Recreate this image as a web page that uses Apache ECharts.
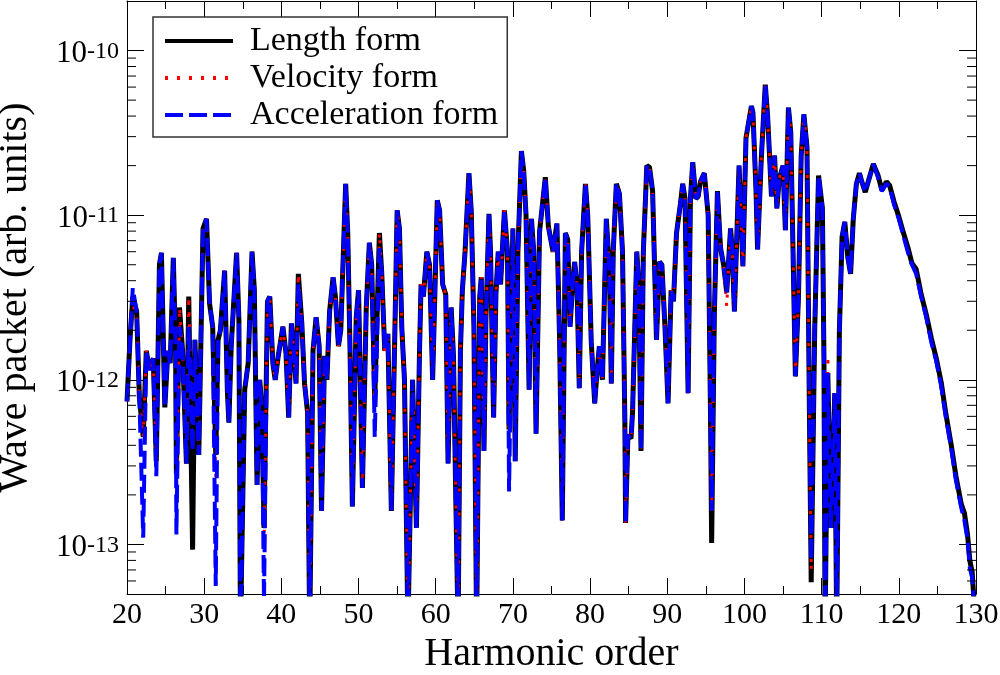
<!DOCTYPE html>
<html>
<head>
<meta charset="utf-8">
<title>Wave packet spectrum</title>
<script src="https://cdn.jsdelivr.net/npm/echarts@6.0.0/dist/echarts.min.js"></script>
<style>
  html, body { margin: 0; padding: 0; background: #fff; }
  #chart { width: 1000px; height: 675px; }
</style>
</head>
<body>
<div id="chart"></div>
<script>
// harmonic order (x) - knots
const harmonic = [
  20.0, 20.4, 20.75, 21.25, 21.6, 22.1, 22.5, 22.9, 23.4, 23.8,
  24.2, 24.46, 24.9, 25.3, 25.6, 26.0, 26.3, 26.4, 26.8, 27.2,
  27.7, 28.0, 28.5, 28.8, 29.3, 29.85, 30.3, 30.7, 31.1, 31.5,
  31.8, 32.1, 32.65, 33.0, 33.2, 33.5, 34.2, 34.5, 34.7, 35.25,
  35.7, 36.2, 36.5, 36.85, 37.2, 37.5, 37.75, 38.2, 38.5, 38.9,
  39.2, 39.6, 40.2, 40.6, 40.95, 41.3, 41.6, 41.9, 42.2, 42.65,
  43.0, 43.4, 43.67, 44.1, 44.5, 44.9, 45.2, 45.6, 45.9, 46.25,
  46.7, 47.0, 47.4, 47.7, 48.33, 48.6, 48.9, 49.2, 49.7, 50.0,
  50.5, 51.0, 51.4, 51.7, 52.1, 52.7, 53.0, 53.4, 53.8, 54.25,
  54.7, 55.0, 55.3, 55.6, 55.95, 56.4, 57.0, 57.5, 57.9, 58.1,
  58.4, 58.85, 59.2, 59.6, 60.2, 60.5, 60.9, 61.3, 61.6, 62.0,
  62.3, 62.6, 62.9, 63.2, 63.45, 63.8, 64.3, 64.6, 64.95, 65.3,
  65.7, 65.9, 66.25, 66.5, 66.9, 67.1, 67.5, 67.8, 68.1, 68.4,
  68.9, 69.3, 69.5, 70.0, 70.3, 70.65, 71.1, 71.4, 71.7, 72.1,
  72.4, 72.7, 73.0, 73.45, 74.2, 74.6, 75.2, 75.7, 76.05, 76.4,
  76.8, 77.1, 77.4, 77.8, 78.0, 78.3, 78.6, 78.9, 79.4, 79.7,
  80.15, 80.6, 80.9, 81.2, 81.6, 82.1, 82.5, 82.75, 83.0, 83.4,
  83.8, 84.2, 84.5, 84.6, 84.9, 85.3, 85.5, 86.05, 86.3, 86.6,
  86.9, 87.35, 87.7, 88.1, 88.6, 89.0, 89.3, 89.7, 90.1, 90.5,
  90.8, 91.2, 91.7, 92.0, 92.3, 92.7, 93.0, 93.3, 93.7, 94.0,
  94.3, 94.8, 95.3, 95.6, 95.75, 96.1, 96.5, 96.9, 97.3, 97.7,
  98.2, 98.4, 98.7, 99.3, 99.8, 100.2, 100.9, 101.1, 101.5, 101.7,
  102.2, 102.7, 103.0, 103.25, 103.5, 103.9, 104.2, 104.5, 105.0, 105.3,
  105.7, 106.0, 106.6, 107.0, 107.35, 107.7, 108.1, 108.4, 108.65, 109.1,
  109.6, 110.1, 110.3, 110.45, 110.8, 111.2, 111.7, 111.95, 112.3, 112.65,
  113.0, 113.4, 113.75, 114.1, 114.5, 114.9, 115.2, 115.65, 116.2, 116.7,
  117.3, 117.8, 118.4, 118.8, 119.4, 120.0, 120.5, 121.2, 121.7, 122.25,
  122.9, 123.55, 124.2, 124.85, 125.5, 126.1, 126.8, 127.4, 128.1, 128.5,
  128.9, 129.2, 129.5, 130.0
];

// Length form (black solid)
const lengthForm = [
  7.4e-13, 1.8e-12, 3.2e-12, 2.6e-12, 7.9e-13, 4.5e-13, 1.5e-12, 1.15e-12, 1.35e-12, 3.2e-13,
  5.0e-12, 5.9e-12, 6.8e-13, 1.5e-12, 1.26e-12, 5.5e-12, 1.5e-12, 2.7e-13, 2.75e-12, 1.5e-12,
  3.1e-13, 3.2e-12, 9.3e-14, 1.75e-12, 3.5e-13, 8.3e-12, 9.5e-12, 2.9e-12, 2.1e-12, 3.5e-13,
  1.75e-12, 2.0e-12, 4.6e-12, 8.7e-13, 5.5e-13, 1.6e-12, 5.9e-12, 2.3e-12, 3e-14, 8.7e-13,
  1.26e-12, 6.0e-12, 3.5e-12, 2.3e-13, 1.0e-12, 6.3e-13, 1.26e-13, 3.0e-12, 3.2e-12, 1.26e-12,
  1.0e-12, 1.4e-12, 2.1e-12, 1.45e-12, 5.9e-13, 2.2e-12, 1.5e-12, 9.5e-13, 4.4e-12, 2.2e-12,
  9.5e-13, 6.3e-13, 3e-14, 1.5e-12, 2.4e-12, 1.6e-12, 1.6e-13, 1.4e-12, 1.0e-12, 2.6e-12,
  4.2e-12, 3.2e-12, 1.6e-12, 2.0e-12, 1.55e-11, 7.8e-12, 1.5e-12, 1.7e-13, 2.4e-12, 3.5e-12,
  2.2e-13, 2.75e-12, 6.8e-12, 5.0e-12, 7.6e-13, 7.8e-12, 4.5e-12, 1.5e-12, 1.9e-12, 1.6e-13,
  1.9e-12, 1.07e-11, 8.3e-12, 2.1e-12, 1.0e-12, 3e-14, 1.0e-12, 1.26e-13, 1.5e-12, 3.8e-12,
  3.2e-12, 6.0e-12, 5.0e-12, 1.0e-12, 1.23e-11, 1.07e-11, 3.8e-12, 3.3e-12, 3.1e-13, 2.75e-12,
  1.4e-12, 1.9e-13, 3e-14, 1.5e-12, 3.5e-12, 6.0e-12, 1.8e-11, 1.07e-11, 2.1e-12, 3e-14,
  3.2e-12, 4.2e-12, 3.7e-13, 2.3e-12, 1.02e-11, 6.0e-12, 5.9e-13, 3.3e-12, 6.0e-12, 3.8e-12,
  1.07e-11, 6.0e-12, 5.0e-13, 8.3e-12, 3.2e-13, 6.0e-12, 2.45e-11, 1.86e-11, 1.0e-11, 8.7e-13,
  9.5e-12, 6.0e-12, 4.7e-13, 7.9e-12, 1.7e-11, 8.5e-12, 6.0e-12, 8.9e-12, 1.75e-12, 1.4e-13,
  7.8e-12, 7.1e-12, 2.1e-12, 4.2e-12, 5.2e-12, 3.8e-12, 8.9e-13, 6.0e-12, 1.55e-11, 9.8e-12,
  1.7e-12, 7.2e-13, 1.12e-12, 1.6e-12, 1.0e-12, 9.5e-12, 4.8e-12, 9.5e-13, 6.0e-12, 1.55e-11,
  1.35e-11, 6.0e-12, 5.9e-13, 1.35e-13, 4.6e-13, 4.4e-13, 6.3e-13, 6.0e-12, 3.8e-12, 3.7e-13,
  6.0e-12, 2.0e-11, 1.95e-11, 1.4e-11, 1.75e-12, 5.2e-12, 5.0e-12, 2.1e-12, 7.2e-13, 3.5e-12,
  3.0e-12, 7.8e-12, 1.17e-11, 1.55e-11, 1.26e-11, 8.3e-13, 1.26e-11, 2.1e-11, 1.26e-11, 1.3e-11,
  1.6e-11, 1.8e-11, 1.0e-11, 6.3e-13, 1.02e-13, 2.5e-12, 1.4e-11, 6.3e-12, 5.0e-12, 3.4e-12,
  8.3e-12, 6.3e-12, 2.6e-12, 2.0e-11, 4.9e-12, 2.95e-11, 4.6e-11, 4.2e-11, 1.4e-11, 6.2e-12,
  2.3e-11, 6.2e-11, 4.0e-11, 2.3e-11, 1.3e-11, 2.3e-11, 1.1e-11, 1.66e-11, 2.0e-11, 8.1e-12,
  4.5e-11, 3.2e-11, 1.05e-12, 3.2e-12, 2.3e-11, 4.1e-11, 2.6e-11, 7.4e-13, 5.9e-14, 2.0e-12,
  1.74e-11, 1.1e-11, 1.35e-12, 3e-14, 1.1e-12, 1.26e-13, 8.3e-13, 3e-14, 2.0e-12, 7.4e-12,
  9.1e-12, 5.5e-12, 4.4e-12, 9.5e-12, 1.55e-11, 1.8e-11, 1.6e-11, 1.38e-11, 1.7e-11, 2.05e-11,
  1.75e-11, 1.42e-11, 1.6e-11, 1.52e-11, 1.2e-11, 9.8e-12, 8.1e-12, 6.3e-12, 5.1e-12, 4.7e-12,
  3.3e-12, 2.5e-12, 1.8e-12, 1.35e-12, 9.6e-13, 6.2e-13, 4.0e-13, 2.6e-13, 1.75e-13, 1.55e-13,
  1.15e-13, 8.0e-14, 6.8e-14, 3e-14
];

// Velocity form (red dotted)
const velocityForm = [
  7.4e-13, 1.8e-12, 2.8e-12, 2.6e-12, 7.9e-13, 4.5e-13, 1.5e-12, 1.15e-12, 1.35e-12, 3.2e-13,
  5.0e-12, 5.9e-12, 6.8e-13, 1.5e-12, 1.26e-12, 5.5e-12, 1.5e-12, 1.8e-13, 2.75e-12, 1.5e-12,
  3.1e-13, 3.2e-12, 3.7e-13, 1.75e-12, 3.5e-13, 8.3e-12, 9.5e-12, 2.9e-12, 2.1e-12, 2.5e-13,
  1.75e-12, 2.0e-12, 4.6e-12, 8.7e-13, 5.5e-13, 1.6e-12, 5.9e-12, 2.3e-12, 3e-14, 8.7e-13,
  1.26e-12, 6.0e-12, 3.5e-12, 2.3e-13, 1.0e-12, 6.3e-13, 1.0e-13, 3.0e-12, 3.2e-12, 1.26e-12,
  1.0e-12, 1.4e-12, 2.1e-12, 1.45e-12, 5.9e-13, 2.2e-12, 1.5e-12, 9.5e-13, 4.4e-12, 2.2e-12,
  9.5e-13, 6.3e-13, 3e-14, 1.5e-12, 2.4e-12, 1.6e-12, 1.6e-13, 1.4e-12, 1.0e-12, 2.6e-12,
  4.2e-12, 3.2e-12, 1.6e-12, 2.0e-12, 1.55e-11, 7.8e-12, 1.5e-12, 1.7e-13, 2.4e-12, 3.5e-12,
  2.2e-13, 2.75e-12, 6.8e-12, 5.0e-12, 7.6e-13, 7.8e-12, 4.5e-12, 1.5e-12, 1.9e-12, 1.6e-13,
  1.9e-12, 1.07e-11, 8.3e-12, 2.1e-12, 1.0e-12, 3e-14, 1.0e-12, 1.26e-13, 1.5e-12, 3.8e-12,
  3.2e-12, 6.0e-12, 5.0e-12, 1.0e-12, 1.23e-11, 1.07e-11, 3.8e-12, 3.3e-12, 3.1e-13, 2.75e-12,
  1.4e-12, 1.9e-13, 3e-14, 1.5e-12, 3.5e-12, 6.0e-12, 1.8e-11, 1.07e-11, 2.1e-12, 3e-14,
  3.2e-12, 4.2e-12, 3.7e-13, 2.3e-12, 1.02e-11, 6.0e-12, 5.9e-13, 3.3e-12, 6.0e-12, 3.8e-12,
  1.07e-11, 6.0e-12, 5.0e-13, 8.3e-12, 3.2e-13, 6.0e-12, 2.45e-11, 1.86e-11, 1.0e-11, 8.7e-13,
  9.5e-12, 6.0e-12, 4.7e-13, 7.9e-12, 1.7e-11, 8.5e-12, 6.0e-12, 8.9e-12, 1.75e-12, 1.4e-13,
  7.8e-12, 7.1e-12, 2.1e-12, 4.2e-12, 5.2e-12, 3.8e-12, 8.9e-13, 6.0e-12, 1.55e-11, 9.8e-12,
  1.7e-12, 7.2e-13, 1.12e-12, 1.6e-12, 1.0e-12, 9.5e-12, 4.8e-12, 9.5e-13, 6.0e-12, 1.55e-11,
  1.35e-11, 6.0e-12, 5.9e-13, 1.35e-13, 4.6e-13, 4.4e-13, 6.3e-13, 6.0e-12, 3.8e-12, 3.7e-13,
  6.0e-12, 2.0e-11, 1.95e-11, 1.4e-11, 1.75e-12, 5.2e-12, 5.0e-12, 2.1e-12, 7.2e-13, 3.5e-12,
  3.0e-12, 7.8e-12, 1.17e-11, 1.55e-11, 1.26e-11, 8.3e-13, 1.26e-11, 2.1e-11, 1.26e-11, 1.3e-11,
  1.6e-11, 1.8e-11, 1.0e-11, 6.3e-13, 1.6e-13, 2.5e-12, 1.4e-11, 6.3e-12, 5.0e-12, 2.8e-12,
  8.3e-12, 6.3e-12, 2.6e-12, 2.0e-11, 4.9e-12, 2.95e-11, 4.6e-11, 4.2e-11, 1.4e-11, 6.2e-12,
  2.3e-11, 6.2e-11, 4.0e-11, 2.3e-11, 1.3e-11, 2.3e-11, 1.1e-11, 1.66e-11, 2.0e-11, 8.1e-12,
  4.5e-11, 3.2e-11, 1.05e-12, 3.2e-12, 2.3e-11, 4.1e-11, 2.6e-11, 7.4e-13, 7.0e-14, 2.0e-12,
  1.74e-11, 1.1e-11, 1.35e-12, 3e-14, 1.4e-12, 1.26e-13, 8.3e-13, 3e-14, 2.0e-12, 7.4e-12,
  9.1e-12, 5.5e-12, 4.4e-12, 9.5e-12, 1.55e-11, 1.8e-11, 1.6e-11, 1.38e-11, 1.7e-11, 2.05e-11,
  1.7e-11, 1.4e-11, 1.55e-11, 1.5e-11, 1.15e-11, 9.5e-12, 7.8e-12, 5.9e-12, 5.0e-12, 4.4e-12,
  3.2e-12, 2.4e-12, 1.7e-12, 1.3e-12, 9.1e-13, 5.9e-13, 3.8e-13, 2.45e-13, 1.66e-13, 1.4e-13,
  1.07e-13, 7.2e-14, 6.3e-14, 3e-14
];

// Acceleration form (blue dashed)
const accelerationForm = [
  7.4e-13, 1.8e-12, 3.6e-12, 2.6e-12, 7.9e-13, 1.1e-13, 1.5e-12, 1.15e-12, 1.35e-12, 2.6e-13,
  5.0e-12, 5.9e-12, 6.8e-13, 1.5e-12, 1.26e-12, 5.5e-12, 1.5e-12, 1.15e-13, 2.1e-12, 1.5e-12,
  3.1e-13, 2.1e-12, 3.7e-13, 1.75e-12, 3.5e-13, 8.3e-12, 9.5e-12, 2.9e-12, 2.1e-12, 5.6e-14,
  1.75e-12, 2.0e-12, 4.6e-12, 8.7e-13, 5.5e-13, 1.6e-12, 5.9e-12, 2.3e-12, 3e-14, 8.7e-13,
  1.26e-12, 6.0e-12, 3.5e-12, 2.3e-13, 1.0e-12, 6.3e-13, 4.5e-14, 3.0e-12, 3.2e-12, 1.26e-12,
  1.0e-12, 1.4e-12, 2.1e-12, 1.45e-12, 5.9e-13, 2.2e-12, 1.5e-12, 9.5e-13, 3.8e-12, 2.2e-12,
  9.5e-13, 6.3e-13, 3e-14, 1.5e-12, 2.4e-12, 1.6e-12, 1.6e-13, 1.4e-12, 1.0e-12, 2.6e-12,
  4.2e-12, 3.2e-12, 1.6e-12, 2.0e-12, 1.55e-11, 7.8e-12, 1.5e-12, 1.7e-13, 2.4e-12, 3.5e-12,
  2.2e-13, 2.75e-12, 6.8e-12, 5.0e-12, 4.5e-13, 6.3e-12, 4.5e-12, 1.5e-12, 1.9e-12, 1.6e-13,
  1.9e-12, 1.07e-11, 8.3e-12, 2.1e-12, 1.0e-12, 3e-14, 1.0e-12, 1.26e-13, 1.5e-12, 3.8e-12,
  3.2e-12, 6.0e-12, 5.0e-12, 1.0e-12, 1.23e-11, 1.07e-11, 3.8e-12, 3.3e-12, 3.1e-13, 2.75e-12,
  1.4e-12, 1.9e-13, 3e-14, 1.5e-12, 3.5e-12, 6.0e-12, 1.8e-11, 1.07e-11, 2.1e-12, 3e-14,
  3.2e-12, 4.2e-12, 3.7e-13, 2.3e-12, 1.02e-11, 6.0e-12, 5.9e-13, 3.3e-12, 6.0e-12, 3.8e-12,
  1.07e-11, 6.0e-12, 2.1e-13, 8.3e-12, 3.2e-13, 6.0e-12, 2.45e-11, 1.86e-11, 1.0e-11, 8.7e-13,
  9.5e-12, 6.0e-12, 4.7e-13, 7.9e-12, 1.7e-11, 8.5e-12, 6.0e-12, 8.9e-12, 1.75e-12, 1.4e-13,
  7.8e-12, 7.1e-12, 2.1e-12, 4.2e-12, 5.2e-12, 3.8e-12, 8.9e-13, 6.0e-12, 1.55e-11, 9.8e-12,
  1.7e-12, 7.2e-13, 1.12e-12, 1.6e-12, 1.0e-12, 9.5e-12, 4.8e-12, 9.5e-13, 6.0e-12, 1.55e-11,
  1.35e-11, 6.0e-12, 5.9e-13, 1.35e-13, 4.6e-13, 4.4e-13, 6.3e-13, 6.0e-12, 3.8e-12, 3.7e-13,
  6.0e-12, 2.0e-11, 1.95e-11, 1.4e-11, 1.75e-12, 5.2e-12, 5.0e-12, 2.1e-12, 7.2e-13, 3.5e-12,
  3.0e-12, 7.8e-12, 1.17e-11, 1.55e-11, 1.26e-11, 8.3e-13, 1.26e-11, 2.1e-11, 1.26e-11, 1.3e-11,
  1.6e-11, 1.8e-11, 1.0e-11, 6.3e-13, 1.6e-13, 2.5e-12, 1.4e-11, 6.3e-12, 5.0e-12, 3.4e-12,
  8.3e-12, 6.3e-12, 2.6e-12, 2.0e-11, 4.9e-12, 2.95e-11, 4.6e-11, 4.2e-11, 1.4e-11, 6.2e-12,
  2.3e-11, 6.2e-11, 4.0e-11, 2.3e-11, 1.3e-11, 2.3e-11, 1.1e-11, 1.66e-11, 2.0e-11, 8.1e-12,
  4.5e-11, 3.2e-11, 1.05e-12, 3.2e-12, 2.3e-11, 4.1e-11, 2.6e-11, 7.4e-13, 8.0e-14, 2.0e-12,
  1.74e-11, 1.1e-11, 1.35e-12, 3e-14, 1.1e-12, 1.26e-13, 8.3e-13, 3e-14, 2.0e-12, 7.4e-12,
  9.1e-12, 5.5e-12, 4.4e-12, 9.5e-12, 1.55e-11, 1.8e-11, 1.6e-11, 1.38e-11, 1.7e-11, 2.05e-11,
  1.7e-11, 1.4e-11, 1.55e-11, 1.5e-11, 1.15e-11, 9.5e-12, 7.8e-12, 5.9e-12, 5.0e-12, 4.4e-12,
  3.2e-12, 2.4e-12, 1.7e-12, 1.3e-12, 9.1e-13, 5.9e-13, 3.8e-13, 2.45e-13, 1.66e-13, 1.4e-13,
  1.07e-13, 7.2e-14, 6.3e-14, 3e-14
];

const seriesNames = ['Length form', 'Velocity form', 'Acceleration form'];
const xTicks = [20, 130, 10];          // min, max, step
const yRange = [5e-14, 2e-10];
// minor ticks of the log axis (2..9 in each decade)
const yMinorTicks = [
  6e-14, 7e-14, 8e-14, 9e-14,
  2e-13, 3e-13, 4e-13, 5e-13, 6e-13, 7e-13, 8e-13, 9e-13,
  2e-12, 3e-12, 4e-12, 5e-12, 6e-12, 7e-12, 8e-12, 9e-12,
  2e-11, 3e-11, 4e-11, 5e-11, 6e-11, 7e-11, 8e-11, 9e-11
];

const FONT = "'Liberation Serif', 'DejaVu Serif', serif";

function pairs(ys) {
  let out = [];
  for (let i = 0; i < harmonic.length && i < ys.length; i++) {
    out.push([harmonic[i], ys[i]]);
  }
  return out;
}

var myChart = echarts.init(document.getElementById('chart'));

var xAxisBase = {
  type: 'value',
  min: xTicks[0],
  max: xTicks[1],
  interval: xTicks[2],
  axisLine: { show: true, onZero: false, lineStyle: { color: '#000', width: 1 } },
  axisTick: { show: true, inside: true, length: 16, lineStyle: { color: '#000', width: 1 } },
  minorTick: { show: true, splitNumber: 2, length: 8, lineStyle: { color: '#000', width: 1 } },
  splitLine: { show: false },
  minorSplitLine: { show: false }
};

var yAxisBase = {
  type: 'log',
  logBase: 10,
  min: yRange[0],
  max: yRange[1],
  axisLine: { show: true, onZero: false, lineStyle: { color: '#000', width: 1 } },
  axisTick: { show: true, inside: true, length: 17, lineStyle: { color: '#000', width: 1 } },
  splitLine: { show: false }
};

var option = {
  animation: false,
  backgroundColor: '#fff',
  grid: {
    left: 127,
    right: 24,
    top: 1,
    bottom: 81,
    containLabel: false,
    outerBoundsMode: 'none'
  },
  legend: {
    data: seriesNames,
    orient: 'vertical',
    left: 153,
    top: 17,
    align: 'left',
    itemWidth: 68,
    itemHeight: 14,
    itemGap: 3,
    padding: [7, 9, 5, 10],
    borderColor: '#333',
    borderWidth: 1.5,
    backgroundColor: '#fff',
    selectedMode: false,
    itemStyle: { opacity: 0 },
    lineStyle: { width: 4 },
    textStyle: {
      fontFamily: FONT,
      fontSize: 34,
      lineHeight: 30,
      color: '#000',
      padding: [0, 0, 0, 12]
    }
  },
  xAxis: [
    Object.assign({}, xAxisBase, {
      position: 'bottom',
      name: 'Harmonic order',
      nameLocation: 'middle',
      nameGap: 32,
      nameTextStyle: { fontFamily: FONT, fontSize: 40, color: '#000' },
      axisLabel: { show: true, margin: 6, fontFamily: FONT, fontSize: 30, color: '#000' }
    }),
    Object.assign({}, xAxisBase, {
      position: 'top',
      axisLabel: { show: false }
    })
  ],
  yAxis: [
    Object.assign({}, yAxisBase, {
      position: 'left',
      name: 'Wave packet (arb. units)',
      nameLocation: 'middle',
      nameGap: 92,
      nameTextStyle: { fontFamily: FONT, fontSize: 40, color: '#000' },
      axisLabel: {
        show: true,
        margin: 8,
        showMinLabel: false,
        showMaxLabel: false,
        padding: [8, 0, 0, 0],
        formatter: function (v) {
          let e = Math.round(Math.log10(v));
          return '{b|10}{s|' + e + '}';
        },
        rich: {
          b: { fontFamily: FONT, fontSize: 31, lineHeight: 30, color: '#000', verticalAlign: 'bottom' },
          s: { fontFamily: FONT, fontSize: 24, lineHeight: 22, color: '#000', verticalAlign: 'top', padding: [0, 0, 17, 0] }
        }
      }
    }),
    Object.assign({}, yAxisBase, {
      position: 'right',
      axisLabel: { show: false }
    })
  ],
  series: [
    {
      name: seriesNames[0],
      type: 'line',
      data: pairs(lengthForm),
      showSymbol: false,
      symbol: 'none',
      clip: true,
      lineStyle: { color: '#000', width: 5, type: 'solid' },
      itemStyle: { color: '#000' },
      z: 2
    },
    {
      name: seriesNames[1],
      type: 'line',
      data: pairs(velocityForm),
      showSymbol: false,
      symbol: 'none',
      clip: true,
      lineStyle: { color: '#ff0000', width: 3, type: [3, 9] },
      itemStyle: { color: '#ff0000' },
      z: 3
    },
    {
      name: seriesNames[2],
      type: 'line',
      data: pairs(accelerationForm),
      showSymbol: false,
      symbol: 'none',
      clip: true,
      lineStyle: { color: '#0000ff', width: 4, type: [18, 6] },
      itemStyle: { color: '#0000ff' },
      z: 4
    },
    {
      // minor ticks of the log axes, left and right
      name: 'minor',
      type: 'custom',
      silent: true,
      clip: false,
      data: yMinorTicks.map(function (v) { return [xTicks[0], v]; }),
      renderItem: function (params, api) {
        let v = api.value(1);
        let l = api.coord([xTicks[0], v]);
        let r = api.coord([xTicks[1], v]);
        return {
          type: 'group',
          children: [
            { type: 'line', shape: { x1: l[0], y1: l[1], x2: l[0] + 9, y2: l[1] }, style: { stroke: '#000', lineWidth: 1 } },
            { type: 'line', shape: { x1: r[0] - 9, y1: r[1], x2: r[0], y2: r[1] }, style: { stroke: '#000', lineWidth: 1 } }
          ]
        };
      },
      z: 5
    }
  ]
};

myChart.setOption(option);
window.addEventListener('resize', function () {
  myChart.resize();
});
</script>
</body>
</html>
